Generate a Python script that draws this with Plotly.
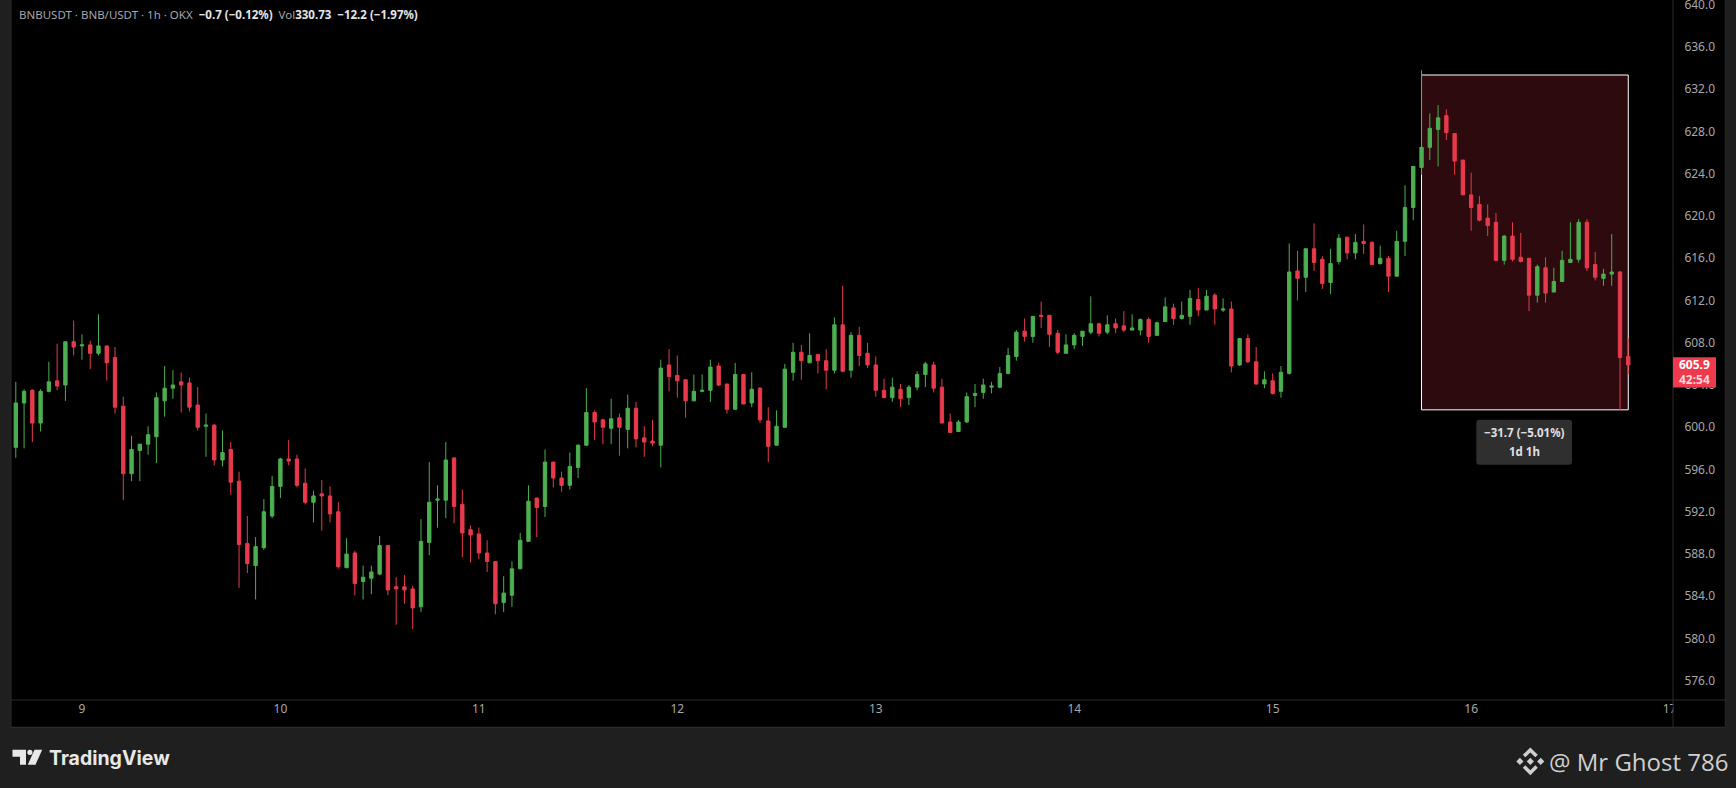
import plotly.graph_objects as go

# BNB/USDT 1h candles (oldest first)
opens = [
    598.1, 602.3, 603.5, 600.4, 603.4, 604.4, 604.0, 608.1, 607.7, 607.8,
    607.0, 607.7, 606.6, 602.0, 595.6, 597.8, 598.4, 599.1, 602.5, 603.7,
    604.3, 604.2, 602.1, 600.1, 600.2, 596.9, 597.9, 594.9, 589.0, 586.9,
    588.6, 591.6, 594.4, 597.0, 597.0, 594.7, 592.9, 593.7, 593.5, 592.0,
    586.7, 588.1, 585.4, 585.7, 586.1, 588.8, 584.9, 584.9, 584.7, 583.0,
    589.1, 593.1, 593.1, 597.1, 592.7, 590.3, 589.9, 588.1, 587.3, 583.4,
    584.1, 586.6, 589.2, 593.3, 592.5, 596.7, 595.2, 594.5, 596.2, 598.3,
    601.4, 600.7, 599.9, 600.9, 599.8, 601.8, 599.0, 598.7, 598.3, 605.9,
    604.9, 604.5, 602.5, 603.4, 603.5, 605.8, 604.1, 601.7, 605.0, 602.3,
    603.7, 600.6, 598.3, 600.0, 605.2, 607.1, 606.1, 606.9, 606.3, 605.4,
    609.7, 605.4, 608.7, 607.0, 605.9, 603.5, 602.8, 603.6, 602.8, 603.8,
    605.0, 605.9, 603.8, 600.5, 599.6, 600.5, 603.0, 603.3, 603.8, 603.8,
    605.1, 606.7, 609.1, 608.6, 610.6, 610.6, 608.9, 607.0, 607.8, 608.6,
    609.0, 609.8, 609.0, 609.8, 609.6, 609.2, 609.2, 610.2, 608.7, 610.0,
    611.3, 610.3, 610.5, 612.1, 611.1, 612.5, 611.1, 611.2, 605.9, 608.4,
    606.2, 604.1, 604.4, 603.4, 605.1, 614.8, 614.2, 616.9, 615.9, 613.7,
    615.7, 618.0, 616.5, 617.6, 617.5, 615.5, 616.0, 614.3, 617.6, 620.8,
    624.6, 626.5, 628.2, 629.5, 627.8, 625.3, 622.0, 621.1, 619.8, 619.4,
    615.8, 618.1, 616.1, 616.0, 612.5, 615.1, 612.8, 613.8, 615.6, 615.9,
    619.4, 615.4, 614.1, 614.5, 614.7, 606.7,
]
highs = [
    604.3, 603.6, 603.6, 603.6, 606.2, 607.9, 608.1, 610.1, 608.8, 608.2,
    610.7, 607.7, 607.6, 602.9, 599.2, 598.4, 600.1, 603.3, 605.8, 605.4,
    605.2, 604.7, 603.8, 601.3, 600.3, 599.7, 598.6, 595.8, 591.6, 589.6,
    593.2, 595.4, 597.1, 598.8, 597.4, 596.1, 594.0, 595.0, 594.4, 592.9,
    589.5, 588.3, 586.9, 586.9, 589.7, 588.8, 585.8, 586.0, 585.0, 591.3,
    596.7, 594.5, 598.6, 597.1, 594.1, 590.7, 590.5, 589.3, 587.3, 585.9,
    587.3, 590.0, 594.5, 593.3, 597.9, 596.7, 595.8, 597.6, 598.4, 603.7,
    601.6, 600.8, 602.7, 601.3, 603.1, 602.4, 600.1, 600.7, 606.4, 607.4,
    606.8, 604.5, 605.0, 605.0, 606.4, 606.1, 604.1, 606.1, 605.0, 605.2,
    603.8, 601.9, 601.6, 606.0, 608.0, 607.8, 608.9, 606.9, 607.4, 610.4,
    613.4, 609.0, 609.5, 608.0, 606.7, 604.6, 604.7, 604.1, 604.0, 605.3,
    606.2, 606.2, 604.6, 601.3, 600.7, 603.3, 604.1, 604.6, 604.3, 605.7,
    607.5, 609.2, 610.3, 610.5, 611.9, 610.6, 609.2, 608.8, 608.9, 609.1,
    612.4, 609.9, 610.6, 610.3, 611.0, 610.7, 610.3, 610.4, 610.0, 612.3,
    611.7, 611.9, 613.0, 613.2, 613.0, 612.7, 612.2, 611.9, 608.4, 608.8,
    607.6, 605.3, 605.1, 605.8, 617.4, 616.7, 616.9, 619.3, 616.2, 616.9,
    618.3, 618.0, 618.3, 619.2, 617.6, 617.2, 616.2, 618.6, 622.9, 624.7,
    633.8, 629.7, 630.5, 630.1, 627.8, 625.3, 624.1, 621.9, 621.1, 620.3,
    618.2, 619.4, 618.4, 616.0, 615.4, 616.1, 615.1, 616.7, 619.4, 619.7,
    619.7, 616.6, 615.0, 618.3, 614.8, 608.4,
]
lows = [
    597.1, 598.0, 598.6, 599.6, 603.3, 603.5, 602.5, 606.8, 606.4, 605.5,
    606.8, 604.4, 601.3, 593.1, 594.9, 594.9, 597.4, 596.6, 601.0, 602.7,
    601.4, 601.5, 599.7, 597.2, 596.4, 596.3, 593.6, 584.8, 586.2, 583.7,
    588.4, 591.4, 593.3, 596.4, 594.3, 592.7, 591.0, 590.2, 591.0, 586.6,
    586.7, 584.1, 583.7, 584.2, 586.0, 584.1, 581.3, 583.3, 580.9, 582.5,
    587.9, 590.5, 591.4, 590.9, 587.7, 587.2, 587.5, 586.3, 582.3, 582.5,
    583.0, 586.6, 589.2, 589.6, 591.5, 594.3, 593.9, 594.1, 595.2, 598.3,
    598.8, 598.4, 598.4, 597.3, 598.0, 598.1, 597.2, 598.2, 596.2, 603.4,
    602.8, 600.9, 602.5, 603.3, 602.4, 603.9, 601.3, 601.7, 602.2, 601.9,
    600.4, 596.7, 598.3, 600.0, 604.4, 604.5, 606.1, 605.1, 603.6, 605.1,
    605.2, 604.7, 605.8, 605.6, 602.9, 602.8, 602.4, 601.9, 602.1, 603.5,
    603.8, 603.3, 600.4, 599.5, 599.6, 600.4, 601.9, 602.7, 603.2, 603.7,
    605.0, 606.3, 608.1, 608.0, 609.4, 607.6, 606.9, 607.0, 607.4, 607.7,
    608.8, 608.6, 608.8, 608.9, 609.0, 609.2, 608.7, 608.0, 608.7, 610.0,
    609.7, 610.2, 609.7, 610.5, 611.1, 609.7, 610.9, 605.2, 605.8, 606.1,
    604.0, 603.7, 603.1, 602.8, 605.0, 612.0, 612.8, 614.8, 613.1, 612.6,
    615.4, 615.9, 615.9, 616.4, 615.4, 615.4, 612.8, 614.3, 616.2, 619.6,
    623.9, 625.3, 624.7, 627.2, 623.9, 622.0, 618.6, 619.5, 618.1, 615.7,
    615.4, 615.7, 615.6, 611.0, 611.8, 611.8, 612.8, 613.8, 615.6, 615.6,
    614.8, 613.9, 613.4, 613.4, 601.6, 605.0,
]
closes = [
    602.3, 603.4, 600.4, 603.4, 604.3, 603.9, 608.1, 607.6, 607.8, 607.0,
    607.7, 606.1, 601.9, 595.6, 597.9, 598.4, 599.3, 602.8, 603.7, 604.0,
    604.0, 601.9, 600.0, 600.2, 596.9, 597.6, 594.8, 588.9, 587.1, 588.7,
    592.0, 594.4, 597.0, 596.8, 594.5, 592.9, 593.5, 593.5, 591.8, 586.8,
    588.0, 585.2, 585.8, 586.3, 588.8, 584.6, 584.7, 584.6, 582.9, 589.2,
    592.9, 593.2, 596.9, 592.5, 590.0, 589.8, 588.1, 587.3, 583.3, 584.3,
    586.6, 589.3, 593.0, 592.4, 596.7, 595.2, 594.5, 596.3, 598.3, 601.4,
    600.5, 600.0, 600.8, 600.0, 601.8, 598.9, 598.6, 598.5, 605.6, 604.8,
    604.4, 602.5, 603.4, 603.5, 605.7, 604.0, 601.7, 605.0, 602.2, 603.6,
    600.7, 598.2, 600.1, 605.5, 607.1, 606.3, 606.8, 606.3, 605.4, 609.7,
    605.3, 608.7, 606.8, 605.9, 603.5, 602.8, 603.8, 602.7, 603.8, 605.0,
    606.0, 603.7, 600.4, 599.5, 600.5, 602.9, 603.2, 604.0, 603.9, 605.1,
    606.8, 609.0, 608.6, 610.5, 610.5, 608.8, 607.1, 607.8, 608.7, 609.1,
    609.8, 608.9, 609.7, 609.4, 609.2, 609.4, 610.2, 608.6, 609.9, 611.4,
    610.3, 610.6, 612.2, 611.1, 612.4, 611.2, 611.2, 605.8, 608.4, 606.2,
    604.1, 604.5, 603.2, 605.2, 614.7, 614.1, 616.9, 615.6, 613.6, 615.5,
    617.9, 616.5, 617.5, 617.4, 615.4, 616.0, 614.3, 617.6, 620.8, 624.7,
    626.5, 628.3, 629.3, 627.9, 625.2, 622.0, 620.8, 619.6, 619.1, 615.8,
    618.1, 615.9, 615.7, 612.5, 615.2, 612.7, 613.8, 615.8, 615.9, 619.4,
    615.1, 614.2, 614.5, 614.7, 606.6, 605.9,
]

price_ticks = [576 + 4 * i for i in range(17)]
day_ticks = [8 + 24 * i for i in range(9)]
day_labels = ['9', '10', '11', '12', '13', '14', '15', '16', '17']

WIDTH, HEIGHT = 1736, 788
LEFT, RIGHT, TOP, BOTTOM = 10.5, 1672.7, 0, 700.3
FRAME_RIGHT, FRAME_BOTTOM = 1725, 727.7
GREEN, RED = '#4caf50', '#e83a4c'
BAND = '#1f1f1f'
EDGE = '#2b2b2b'
LOGO = '#e8e8e8'
MARK = '#cfcfcf'


# positions outside the candles are given in page pixels
def px(x):
    return (x - LEFT) / (RIGHT - LEFT)


def py(y):
    return 1 - (y - TOP) / (BOTTOM - TOP)


def box(x0, y0, x1, y1, fill, layer='above'):
    return dict(type='rect', xref='paper', yref='paper', layer=layer,
                x0=px(x0), x1=px(x1), y0=py(y0), y1=py(y1),
                fillcolor=fill, line=dict(width=0))


def rule(x0, y0, x1, y1, width=1):
    return dict(type='line', xref='paper', yref='paper', layer='above',
                x0=px(x0), x1=px(x1), y0=py(y0), y1=py(y1), line=dict(color=EDGE, width=width))


def outline(points, fill):
    path = 'M ' + ' L '.join(f'{px(x):.5f},{py(y):.5f}' for x, y in points) + ' Z'
    return dict(type='path', xref='paper', yref='paper', layer='above',
                path=path, fillcolor=fill, line=dict(width=0))


def rounded(x0, y0, x1, y1, r, fill):
    corners = [
        ('M', x0 + r, y0), ('L', x1 - r, y0), ('Q', x1, y0, x1, y0 + r),
        ('L', x1, y1 - r), ('Q', x1, y1, x1 - r, y1), ('L', x0 + r, y1),
        ('Q', x0, y1, x0, y1 - r), ('L', x0, y0 + r), ('Q', x0, y0, x0 + r, y0),
    ]
    parts = []
    for c in corners:
        coords = [f'{px(c[i]):.5f},{py(c[i + 1]):.5f}' for i in range(1, len(c), 2)]
        parts.append(c[0] + ' ' + ' '.join(coords))
    return dict(type='path', xref='paper', yref='paper', layer='above',
                path=' '.join(parts) + ' Z', fillcolor=fill, line=dict(width=0))


def diamond(cx, cy, half, fill):
    return outline([(cx, cy - half), (cx + half, cy), (cx, cy + half), (cx - half, cy)], fill)


def label(x, y, text, size, color, anchor='center', font='Noto Sans'):
    return dict(xref='paper', yref='paper', x=px(x), y=py(y), text=text, showarrow=False,
                xanchor=anchor, yanchor='middle', align='left',
                font=dict(family=font, size=size, color=color))


fig = go.Figure()
fig.add_trace(go.Candlestick(
    x=list(range(len(opens))),
    open=opens, high=highs, low=lows, close=closes,
    increasing=dict(line=dict(color=GREEN, width=1), fillcolor=GREEN),
    decreasing=dict(line=dict(color=RED, width=1), fillcolor=RED),
    whiskerwidth=0,
))

# Binance mark, drawn around its centre
bx, by = 1530, 761.7
chevron = [(0, -14), (7.5, -6.5), (5, -4), (0, -9), (-5, -4), (-7.5, -6.5)]

shapes = [
    # black chart panels behind the axis labels
    box(RIGHT, 0, FRAME_RIGHT, BOTTOM, '#000000', layer='below'),
    box(LEFT, BOTTOM, FRAME_RIGHT, FRAME_BOTTOM, '#000000', layer='below'),
    # price range tool
    dict(type='rect', xref='x', yref='y', layer='below', x0=170, x1=195, y0=601.65, y1=633.35,
         fillcolor='#2c0a0d', line=dict(color='#ffffff', width=1)),
    rounded(1476, 420, 1571.7, 465, 3, '#2f2f2f'),
    # price axis panel cuts off the last day label
    box(RIGHT + 0.5, BOTTOM + 0.5, FRAME_RIGHT, FRAME_BOTTOM, '#000000'),
    rule(RIGHT, 0, RIGHT, FRAME_BOTTOM),
    rule(LEFT, BOTTOM, FRAME_RIGHT, BOTTOM),
    rule(LEFT, FRAME_BOTTOM, FRAME_RIGHT, FRAME_BOTTOM, width=1.5),
    rule(FRAME_RIGHT, 0, FRAME_RIGHT, FRAME_BOTTOM),
    rule(LEFT, 0, LEFT, FRAME_BOTTOM),
    # last price tag
    box(RIGHT, 357.3, 1715.7, 387.7, '#ee3a4c'),
    # TradingView logo
    outline([(12, 750), (25.5, 750), (25.5, 765), (19.5, 765), (19.5, 757), (12, 757)], LOGO),
    dict(type='circle', xref='paper', yref='paper', layer='above', x0=px(26.8), x1=px(32),
         y0=py(750), y1=py(755.2), fillcolor=LOGO, line=dict(width=0)),
    outline([(34, 750), (41.7, 750), (35, 765), (27.3, 765)], LOGO),
    outline([(bx + x, by + y) for x, y in chevron], MARK),
    outline([(bx + x, by - y) for x, y in chevron], MARK),
    diamond(bx, by, 3.6, MARK),
    diamond(bx - 10.4, by, 3.6, MARK),
    diamond(bx + 10.4, by, 3.6, MARK),
]

grey = '#a3a6af'
header = (
    f'<span style="color:{grey}">BNBUSDT · BNB/USDT · 1h · OKX</span>'
    '  <b>−0.7 (−0.12%)</b>  '
    f'<span style="color:{grey}">Vol</span><b>330.73</b>  <b>−12.2 (−1.97%)</b>'
)
annotations = [
    label(16.5, 15, header, 11.5, '#e6e6e6', anchor='left'),
    label(1524, 432.5, '<b>−31.7 (−5.01%)</b>', 11.5, '#e0e0e0'),
    label(1524, 452, '<b>1d 1h</b>', 11.5, '#e0e0e0'),
    label(1694, 365, '<b>605.9</b>', 12, '#ffffff'),
    label(1694, 380, '<b>42:54</b>', 12, '#ffd5d9'),
    label(47, 758, '<b>TradingView</b>', 19.5, LOGO, anchor='left', font='Inter'),
    label(1547, 762, '@ Mr Ghost 786', 24, MARK, anchor='left', font='Open Sans'),
]

fig.update_layout(
    width=WIDTH, height=HEIGHT,
    margin=dict(l=LEFT, r=WIDTH - RIGHT, t=TOP, b=HEIGHT - BOTTOM, pad=0, autoexpand=False),
    paper_bgcolor=BAND, plot_bgcolor='#000000',
    showlegend=False, boxgap=0.42,
    shapes=shapes, annotations=annotations,
    xaxis=dict(
        range=[-0.58, 200.41], rangeslider=dict(visible=False), showgrid=False, zeroline=False,
        tickvals=day_ticks, ticktext=day_labels, ticks='', showline=False,
        ticklabeloverflow='allow',
        tickfont=dict(family='Noto Sans', size=12, color='#a8a8a8'),
    ),
    yaxis=dict(
        range=[574.18, 640.45], side='right', showgrid=False, zeroline=False,
        tickvals=price_ticks, tickformat='.1f', ticks='outside', ticklen=8,
        tickcolor='rgba(0,0,0,0)', showline=False, ticklabeloverflow='allow',
        tickfont=dict(family='Noto Sans', size=12, color='#a8a8a8'),
    ),
)

fig.write_html("out.html", config={'displayModeBar': False},
               post_script="document.body.style.margin='0'")
